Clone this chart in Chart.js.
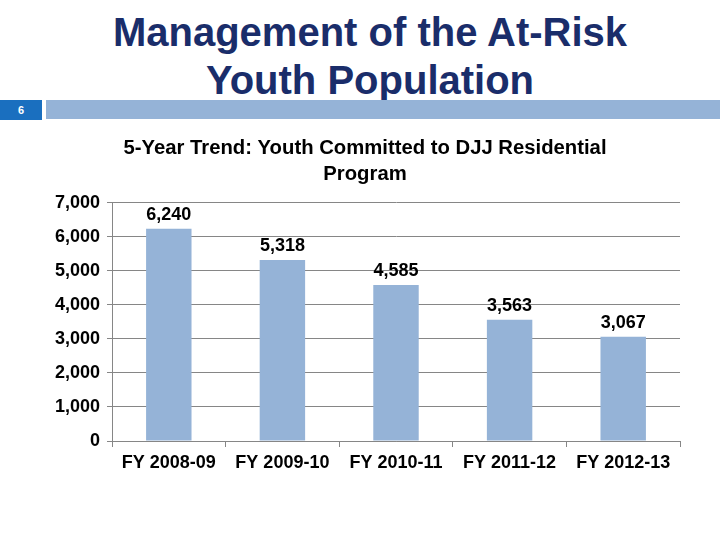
<!DOCTYPE html>
<html><head><meta charset="utf-8">
<script src="https://cdn.jsdelivr.net/npm/chart.js@4.4.1/dist/chart.umd.min.js"></script>
<style>
html,body{margin:0;padding:0;background:#fff;width:720px;height:540px;overflow:hidden;position:relative;font-family:"Liberation Sans",Arial,sans-serif;}
#title{position:absolute;left:0;width:740px;top:8px;text-align:center;color:#1a2d6a;font-weight:bold;font-size:40px;line-height:48px;}
#num{position:absolute;left:0;top:100px;width:42px;height:20px;background:#1a6fbf;color:#fff;font-size:11px;font-weight:bold;text-align:center;line-height:20px;}
#band{position:absolute;left:46px;top:100px;width:674px;height:19px;background:#95b3d7;}
#wrap{position:absolute;left:0;top:0;width:720px;height:540px;}
</style></head>
<body>
<div id="title">Management of the At-Risk<br>Youth Population</div>
<div id="num">6</div>
<div id="band"></div>
<div id="wrap"><canvas id="c" width="720" height="540"></canvas></div>
<script>
const categories = ["FY 2008-09","FY 2009-10","FY 2010-11","FY 2011-12","FY 2012-13"];
const committed = [6240, 5318, 4585, 3563, 3067];
const yTicks = [0,1000,2000,3000,4000,5000,6000,7000];
const chartTitle = ["5-Year Trend: Youth Committed to DJJ Residential","Program"];

const FONT = '"Liberation Sans", Arial, sans-serif';
const labelPlugin = {
  id:'valLabels',
  afterDatasetsDraw(chart){
    const ctx = chart.ctx;
    const meta = chart.getDatasetMeta(0);
    ctx.save();
    ctx.font = 'bold 18px ' + FONT;
    ctx.fillStyle = '#000';
    ctx.textAlign = 'center';
    ctx.textBaseline = 'alphabetic';
    meta.data.forEach((bar,i)=>{
      ctx.fillText(committed[i].toLocaleString('en-US'), bar.x, bar.y - 9);
    });
    ctx.restore();
  }
};

new Chart(document.getElementById('c'), {
  type:'bar',
  data:{labels:categories, datasets:[{data:committed, backgroundColor:'#95b3d7', borderWidth:0, barPercentage:0.4, categoryPercentage:1}]},
  options:{
    responsive:false, animation:false,
    layout:{padding:{left:50,right:40,top:130,bottom:60}},
    plugins:{
      legend:{display:false}, tooltip:{enabled:false},
      title:{display:true, text:chartTitle, color:'#000', font:{family:FONT, size:20.3, weight:'bold', lineHeight:1.3}, padding:{top:5,bottom:15}}
    },
    scales:{
      x:{
        afterFit(s){ s.height = 39; },
        grid:{display:true, offset:true, drawOnChartArea:false, tickLength:6, color:'#868686'},
        border:{display:true, color:'#868686', width:1},
        ticks:{color:'#000', font:{family:FONT, size:18, weight:'bold'}, padding:5, maxRotation:0}
      },
      y:{
        min:0, max:7000,
        afterFit(s){ s.width = 62; },
        afterBuildTicks(s){ s.ticks = yTicks.map(v=>({value:v})); },
        grid:{color:'#868686', tickLength:5},
        border:{display:true, color:'#868686', width:1},
        ticks:{color:'#000', font:{family:FONT, size:18, weight:'bold'}, padding:7,
          callback:(v)=>v.toLocaleString('en-US')}
      }
    }
  },
  plugins:[labelPlugin]
});
</script>
</body></html>
